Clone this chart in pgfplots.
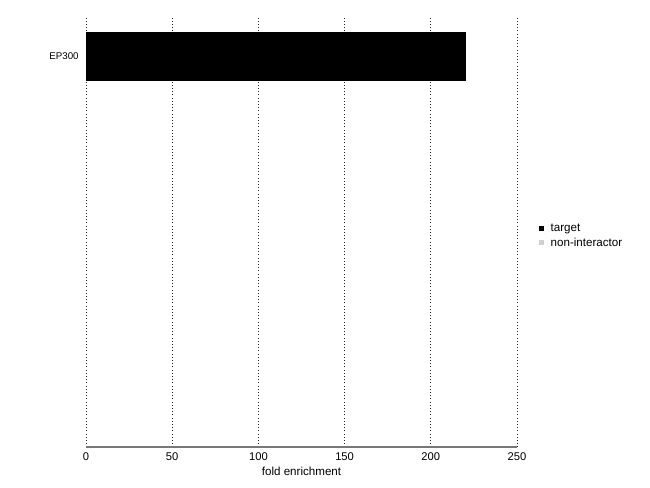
\documentclass[border=0pt]{standalone}
\usepackage{pgfplots}
\pgfplotsset{compat=1.18}
\usepackage{fontspec}
\setmainfont{Liberation Sans}
\definecolor{nonint}{HTML}{D0D0D0}
\definecolor{axgrey}{HTML}{777777}
\begin{document}
\begin{tikzpicture}
\useasboundingbox (0pt,0pt) rectangle (487.5pt,366pt);
\begin{axis}[
  at={(64.5pt,30.75pt)}, anchor=south west,
  scale only axis, width=323.25pt, height=321.75pt,
  xbar, bar width=1, bar shift=0pt,
  xmin=0, xmax=250, ymin=-7.97, ymax=0.786,
  xtick={0,50,100,150,200,250},
  ytick={0}, yticklabels={EP300},
  yticklabel style={font=\fontsize{7.3}{8}\selectfont, xshift=-2pt},
  xticklabel style={font=\fontsize{8.4}{9}\selectfont, yshift=-1pt},
  /pgf/number format/assume math mode=true,
  xlabel={fold enrichment},
  xlabel style={font=\fontsize{8.7}{10}\selectfont, yshift=2pt},
  axis x line*=bottom, axis y line*=left,
  x axis line style={axgrey, -, line width=0.8pt},
  y axis line style={draw=none},
  major tick length=0pt,
  xmajorgrids, grid style={black!85, dotted, line width=0.6pt},
  legend style={at={(1.042,0.534)}, anchor=north west, draw=none, fill=none,
    font=\fontsize{8.7}{10}\selectfont, row sep=-0.5pt},
  legend cell align=left,
  legend image code/.code={\fill[#1] (0pt,-1.9pt) rectangle (3.8pt,1.9pt); \path (6.5pt,0pt);},
]
\addplot[fill=black, draw=none] coordinates {(220.3,0)};
\addlegendentry{target}
\addlegendimage{fill=nonint, draw=none}
\addlegendentry{non-interactor}
\end{axis}
\end{tikzpicture}
\end{document}
